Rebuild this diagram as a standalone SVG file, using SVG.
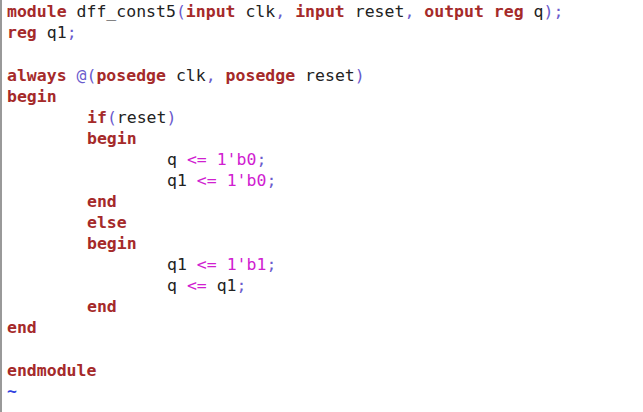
<svg xmlns="http://www.w3.org/2000/svg" width="643" height="412" viewBox="0 0 643 412">
<style>
text{font-family:"DejaVu Sans Mono","Liberation Mono",monospace;font-size:16.5px;fill:#222;white-space:pre}
.k{fill:#a52a2a;font-weight:bold}
.p{fill:#6a5acd}
.n{fill:#d020d0}
.t{fill:#3040e0;font-weight:bold}
</style>
<rect width="643" height="412" fill="#fff"/>
<rect x="0" y="0" width="2" height="412" fill="#999"/>
<g id="code">
<text x="7" y="17"><tspan class="k">module</tspan> dff_const5<tspan class="p">(</tspan><tspan class="k">input</tspan> clk<tspan class="p">,</tspan> <tspan class="k">input</tspan> reset<tspan class="p">,</tspan> <tspan class="k">output</tspan> <tspan class="k">reg</tspan> q<tspan class="p">);</tspan></text>
<text x="7" y="38"><tspan class="k">reg</tspan> q1<tspan class="p">;</tspan></text>
<text x="7" y="81"><tspan class="k">always</tspan> <tspan class="p">@(</tspan><tspan class="k">posedge</tspan> clk<tspan class="p">,</tspan> <tspan class="k">posedge</tspan> reset<tspan class="p">)</tspan></text>
<text x="7" y="102" class="k">begin</text>
<text x="87" y="123"><tspan class="k">if</tspan><tspan class="p">(</tspan>reset<tspan class="p">)</tspan></text>
<text x="87" y="144" class="k">begin</text>
<text x="167" y="165">q <tspan class="n">&lt;=</tspan> <tspan class="n">1'b0</tspan><tspan class="p">;</tspan></text>
<text x="167" y="186">q1 <tspan class="n">&lt;=</tspan> <tspan class="n">1'b0</tspan><tspan class="p">;</tspan></text>
<text x="87" y="207" class="k">end</text>
<text x="87" y="228" class="k">else</text>
<text x="87" y="249" class="k">begin</text>
<text x="167" y="270">q1 <tspan class="n">&lt;=</tspan> <tspan class="n">1'b1</tspan><tspan class="p">;</tspan></text>
<text x="167" y="291">q <tspan class="n">&lt;=</tspan> q1<tspan class="p">;</tspan></text>
<text x="87" y="312" class="k">end</text>
<text x="7" y="333" class="k">end</text>
<text x="7" y="376" class="k">endmodule</text>
<text x="7" y="397" class="t">~</text>
</g>
</svg>
